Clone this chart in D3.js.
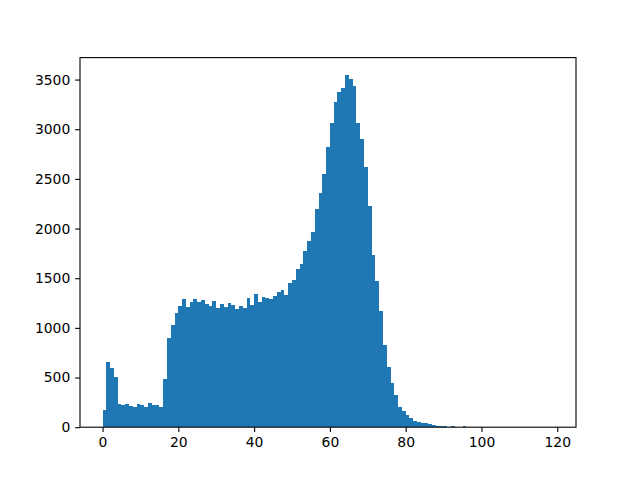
<!DOCTYPE html>
<html>
<head>
<meta charset="utf-8">
<script src="https://cdn.jsdelivr.net/npm/d3@7"></script>
<style>
  html, body { margin: 0; padding: 0; background: #fff; }
  svg { display: block; }
  .tick text { font-family: "DejaVu Sans", sans-serif; font-size: 13.9px; fill: #000; }
</style>
</head>
<body>
<svg id="chart" width="640" height="480"></svg>
<script>
// Histogram: bins of width 1 from 0 to 119
const binStart = 0;
const binWidth = 1;
const counts = [
  173, 656, 596, 505, 233, 223, 233, 213, 203, 233,
  223, 203, 243, 223, 223, 203, 485, 897, 1028, 1149,
  1220, 1291, 1210, 1261, 1291, 1261, 1281, 1241, 1220, 1271,
  1200, 1241, 1210, 1251, 1230, 1190, 1220, 1200, 1301, 1230,
  1341, 1261, 1311, 1301, 1291, 1321, 1361, 1381, 1331, 1452,
  1482, 1593, 1643, 1774, 1875, 1965, 2196, 2357, 2548, 2820,
  3061, 3272, 3373, 3413, 3544, 3504, 3433, 3061, 2900, 2618,
  2226, 1733, 1472, 1170, 828, 606, 445, 324, 203, 163,
  122, 93, 62, 52, 42, 42, 32, 22, 14, 12,
  10, 5, 10, 3, 3, 10, 2, 1, 1, 1,
  0, 1, 0, 0, 1, 0, 0, 0, 0, 0,
  0, 0, 0, 0, 0, 0, 0, 0, 1
];
const xTicks = [0, 20, 40, 60, 80, 100, 120];
const yTicks = [0, 500, 1000, 1500, 2000, 2500, 3000, 3500];

(function () {
  const W = 640, H = 480;
  const mLeft = 0.125 * W, mRight = 0.9 * W, mTop = H - 0.88 * H, mBottom = H - 0.11 * H;

  const dataMin = binStart, dataMax = binStart + counts.length * binWidth;
  const pad = (dataMax - dataMin) * 0.05;
  const x = d3.scaleLinear().domain([dataMin - pad, dataMax + pad]).range([mLeft, mRight]);
  const yMax = d3.max(counts) * 1.05;
  const y = d3.scaleLinear().domain([0, yMax]).range([mBottom, mTop]);

  const svg = d3.select("#chart");

  svg.append("g")
    .attr("shape-rendering", "crispEdges")
    .selectAll("rect")
    .data(counts)
    .join("rect")
    .attr("x", (d, i) => x(binStart + i * binWidth))
    .attr("width", (d, i) => x(binStart + (i + 1) * binWidth) - x(binStart + i * binWidth))
    .attr("y", d => y(d))
    .attr("height", d => y(0) - y(d))
    .attr("fill", "#1f77b4");

  const tickLen = 4.86, tickPad = 4.86;

  const xAxis = svg.append("g")
    .attr("transform", `translate(0,${mBottom})`)
    .call(d3.axisBottom(x).tickValues(xTicks).tickFormat(d3.format("d"))
      .tickSizeInner(tickLen).tickSizeOuter(0).tickPadding(tickPad));
  const yAxis = svg.append("g")
    .attr("transform", `translate(${mLeft},0)`)
    .call(d3.axisLeft(y).tickValues(yTicks).tickFormat(d3.format("d"))
      .tickSizeInner(tickLen).tickSizeOuter(0).tickPadding(tickPad));

  [xAxis, yAxis].forEach(g => {
    g.select(".domain").remove();
    g.selectAll(".tick line").attr("stroke", "#000").attr("stroke-width", 1.1);
  });

  svg.append("rect")
    .attr("x", mLeft).attr("y", mTop)
    .attr("width", mRight - mLeft).attr("height", mBottom - mTop)
    .attr("fill", "none").attr("stroke", "#000").attr("stroke-width", 1.1);
})();
</script>
</body>
</html>
